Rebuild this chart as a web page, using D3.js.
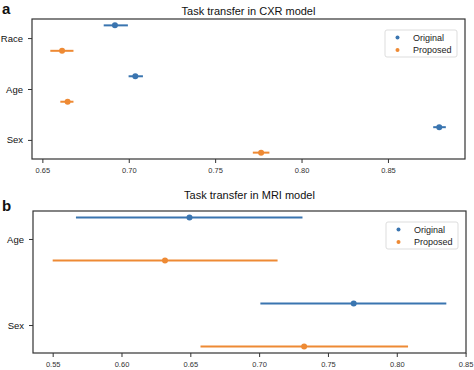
<!DOCTYPE html>
<html><head><meta charset="utf-8">
<script src="https://cdn.jsdelivr.net/npm/d3@7"></script>
<style>body{margin:0;background:#fff}svg{display:block}text{font-family:"Liberation Sans",Arial,sans-serif}</style>
</head><body><svg id="c" width="474" height="370"></svg>
<script>
// Panel a: CXR
const catsA = ["Race", "Age", "Sex"];
const origA = [0.692, 0.7038, 0.8797];
const origALo = [0.6855, 0.6999, 0.8762];
const origAHi = [0.6995, 0.7082, 0.8835];
const propA = [0.6614, 0.6646, 0.7766];
const propALo = [0.6546, 0.6604, 0.7718];
const propAHi = [0.668, 0.668, 0.7814];
const ticksA = [0.65, 0.70, 0.75, 0.80, 0.85];
// Panel b: MRI
const catsB = ["Age", "Sex"];
const origB = [0.6494, 0.7687];
const origBLo = [0.5669, 0.7009];
const origBHi = [0.7315, 0.836];
const propB = [0.6316, 0.7327];
const propBLo = [0.55, 0.6574];
const propBHi = [0.7134, 0.8082];
const ticksB = [0.55, 0.60, 0.65, 0.70, 0.75, 0.80, 0.85];
const seriesNames = ["Original", "Proposed"];
const colors = ["#3a75b0", "#ee8a34"];

const svg = d3.select("#c");

function panel(o) {
  const x = d3.scaleLinear().domain(o.xdom).range([o.left, o.right]);
  const n = o.cats.length;
  const pad = 0.25 + (n - 1 + 0.5) * 0.05;
  const y = d3.scaleLinear().domain([-pad, n - 1 + pad]).range([o.top, o.bottom]);
  const g = svg.append("g");
  g.append("text").attr("x", (o.left + o.right) / 2).attr("y", o.titleY).attr("text-anchor", "middle")
    .attr("font-size", 11).attr("fill", "#111").text(o.title);
  g.append("text").attr("x", 2).attr("y", o.letterY).attr("font-size", 15).attr("font-weight", "bold")
    .attr("fill", "#111").text(o.letter);
  const sets = [
    {v: o.orig, lo: o.origLo, hi: o.origHi, off: -0.25, c: colors[0]},
    {v: o.prop, lo: o.propLo, hi: o.propHi, off: 0.25, c: colors[1]}
  ];
  sets.forEach(s => {
    const sg = g.append("g");
    sg.selectAll("line").data(o.cats).join("line")
      .attr("x1", (d, i) => x(s.lo[i])).attr("x2", (d, i) => x(s.hi[i]))
      .attr("y1", (d, i) => y(i + s.off)).attr("y2", (d, i) => y(i + s.off))
      .attr("stroke", s.c).attr("stroke-width", 2);
    sg.selectAll("circle").data(o.cats).join("circle")
      .attr("cx", (d, i) => x(s.v[i])).attr("cy", (d, i) => y(i + s.off))
      .attr("r", 3).attr("fill", s.c);
  });
  g.append("rect").attr("x", o.left).attr("y", o.top).attr("width", o.right - o.left).attr("height", o.bottom - o.top)
    .attr("fill", "none").attr("stroke", "#333").attr("stroke-width", 1.2);
  const xa = g.append("g").attr("transform", `translate(0,${o.bottom})`)
    .call(d3.axisBottom(x).tickValues(o.ticks).tickFormat(d3.format(".2f")).tickSize(4).tickPadding(5));
  xa.select(".domain").remove();
  xa.selectAll("line").attr("stroke", "#333");
  xa.selectAll("text").attr("font-size", 7.5).attr("fill", "#333").attr("font-family", "Liberation Sans");
  const ya = g.append("g").attr("transform", `translate(${o.left},0)`)
    .call(d3.axisLeft(y).tickValues(d3.range(n)).tickFormat(i => o.cats[i]).tickSize(4).tickPadding(5));
  ya.select(".domain").remove();
  ya.selectAll("line").attr("stroke", "#333");
  ya.selectAll("text").attr("font-size", 9.5).attr("fill", "#111").attr("font-family", "Liberation Sans");
  const lg = g.append("g").attr("transform", `translate(${o.right - 80},${o.top + 11})`);
  lg.append("rect").attr("x", 0).attr("y", 0).attr("width", 72).attr("height", 27).attr("rx", 2)
    .attr("fill", "#fff").attr("stroke", "#ddd");
  seriesNames.forEach((nm, i) => {
    lg.append("circle").attr("cx", 12.5).attr("cy", 7.5 + i * 12.5).attr("r", 2).attr("fill", colors[i]);
    lg.append("text").attr("x", 28).attr("y", 7.5 + i * 12.5).attr("dy", "0.35em")
      .attr("font-size", 9).attr("fill", "#222").text(nm);
  });
}

panel({cats: catsA, orig: origA, origLo: origALo, origHi: origAHi, prop: propA, propLo: propALo, propHi: propAHi,
  ticks: ticksA, xdom: [0.6440, 0.8946], left: 32, right: 465, top: 19, bottom: 159,
  title: "Task transfer in CXR model", titleY: 15, letter: "a", letterY: 14});
panel({cats: catsB, orig: origB, origLo: origBLo, origHi: origBHi, prop: propB, propLo: propBLo, propHi: propBHi,
  ticks: ticksB, xdom: [0.5357, 0.8503], left: 33, right: 466, top: 211, bottom: 353,
  title: "Task transfer in MRI model", titleY: 199, letter: "b", letterY: 211});
</script></body></html>
